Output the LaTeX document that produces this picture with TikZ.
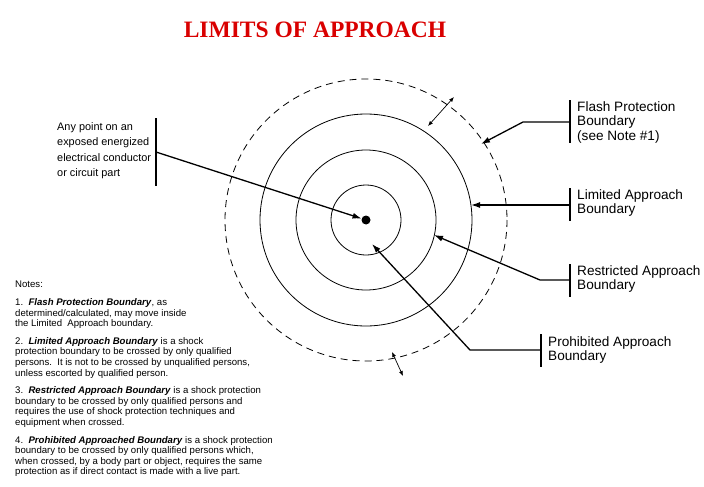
\documentclass[tikz,border=0pt]{standalone}
\usepackage{fontspec}
\setmainfont{Liberation Sans}
\newfontfamily\titlefont{Liberation Serif}
\usetikzlibrary{arrows.meta}
\begin{document}
\begin{tikzpicture}[x=1pt,y=-1pt,
  lbl/.style={anchor=west,align=left,font=\fontsize{13.6}{14.5}\selectfont,inner sep=0pt},
  bar/.style={line width=1.2pt},
  lead/.style={line width=1.3pt,-{Latex[length=9pt,width=6pt]}},
  ring/.style={line width=0.8pt},
  dbl/.style={line width=0.7pt,{Latex[length=5pt,width=4pt]}-{Latex[length=5pt,width=4pt]}},
  note/.style={anchor=north west,align=left,font=\fontsize{9.6}{10.6}\selectfont,inner sep=0pt}]
\useasboundingbox (0,0) rectangle (704,487);
\node[font=\titlefont\bfseries\fontsize{23.5}{25}\selectfont,text=red!85!black] (title) at (315,30) {LIMITS OF APPROACH};
\coordinate (c) at (366,220);
\draw[ring] (c) circle (35);
\draw[ring] (c) circle (70);
\draw[ring] (c) circle (106);
\draw[ring,dashed,dash pattern=on 7pt off 5pt] (c) circle (141);
\fill (c) circle (4.5);
\node[circle,inner sep=0,minimum size=9pt] (dot) at (c) {};
% double arrows
\draw[dbl] (428,126) -- (454,97);
\draw[dbl] (392,352) -- (403,376);
% any point
\coordinate (apb) at (156,152);
\draw[bar] (156,118) -- (156,186);
\node[lbl,anchor=north west,font=\fontsize{10.9}{15.5}\selectfont] (ap) at (57,122) {Any point on an\\exposed energized\\electrical conductor\\or circuit part};
\draw[lead] (apb) -- (dot);
% flash
\draw[bar] (570,100) -- (570,143);
\node[lbl,anchor=north west] (fl) at (577,101) {Flash Protection\\Boundary\\(see Note \#1)};
\coordinate (fk) at (523,122);
\draw[lead] (570,122) -- (fk) -- (481,144);
% limited
\draw[bar] (570,188) -- (570,221);
\node[lbl,anchor=north west] (li) at (577,189) {Limited Approach\\Boundary};
\draw[lead] (570,205) -- (471,205);
% restricted
\draw[bar] (570,264) -- (570,297);
\node[lbl,anchor=north west] (re) at (577,265) {Restricted Approach\\Boundary};
\draw[lead] (570,280) -- (540,280) -- (434,235);
% prohibited
\draw[bar] (541,334) -- (541,367);
\node[lbl,anchor=north west] (pr) at (548,336) {Prohibited Approach\\Boundary};
\draw[lead] (541,350) -- (470,350) -- (372,244);
% notes
\node[note] (notes) at (15,281) {Notes:\\[7pt]
1.\ \ \textbf{\textit{Flash Protection Boundary}}, as\\
determined/calculated, may move inside\\
the Limited\ \ Approach boundary.\\[7pt]
2.\ \ \textbf{\textit{Limited Approach Boundary}} is a shock\\
protection boundary to be crossed by only qualified\\
persons.\ \ It is not to be crossed by unqualified persons,\\
unless escorted by qualified person.\\[7pt]
3.\ \ \textbf{\textit{Restricted Approach Boundary}} is a shock protection\\
boundary to be crossed by only qualified persons and\\
requires the use of shock protection techniques and\\
equipment when crossed.\\[7pt]
4.\ \ \textbf{\textit{Prohibited Approached Boundary}} is a shock protection\\
boundary to be crossed by only qualified persons which,\\
when crossed, by a body part or object, requires the same\\
protection as if direct contact is made with a live part.};
\end{tikzpicture}
\end{document}
